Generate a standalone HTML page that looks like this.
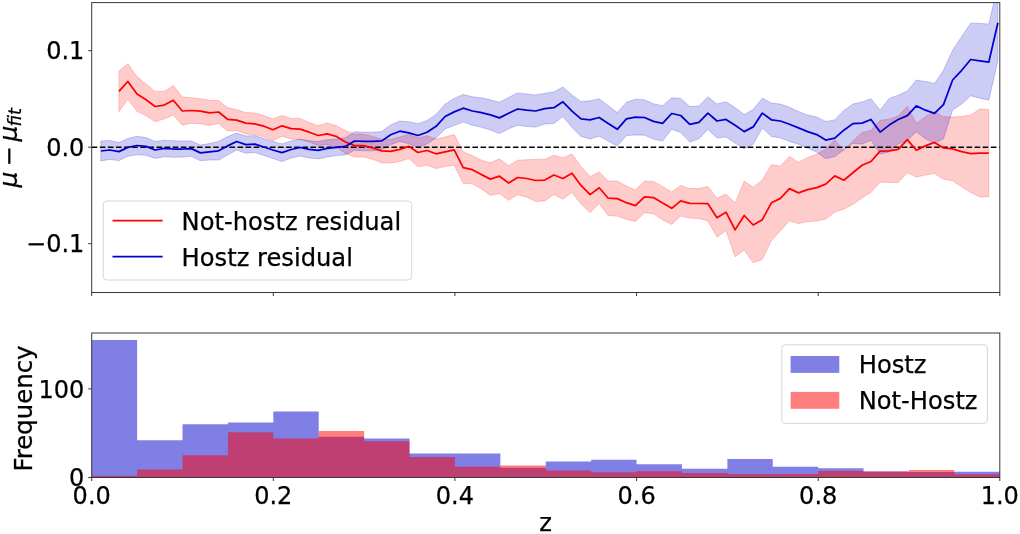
<!DOCTYPE html>
<html><head><meta charset="utf-8"><title>Residuals</title>
<style>
html,body{margin:0;padding:0;background:#fff;}
svg{display:block;}
text{stroke:#000;stroke-width:0.25px;font-family:"DejaVu Sans","Liberation Sans",sans-serif;fill:#000;}
.t{font-size:24.0px;}
.l{font-size:24.2px;}
</style></head><body>
<svg width="1020" height="534" viewBox="0 0 1020 534">
<rect width="1020" height="534" fill="#fff"/>
<defs><clipPath id="c1"><rect x="91.7" y="2.6" width="908.0999999999999" height="289.9"/></clipPath></defs>

<g clip-path="url(#c1)">
<polygon points="118.9,71.1 127.9,63.8 137.0,76.6 146.1,83.9 155.1,91.4 164.2,91.4 173.3,85.5 182.3,96.9 191.4,97.7 200.4,98.7 209.5,100.2 218.6,100.6 227.6,107.7 236.7,109.7 245.8,112.6 254.8,113.0 263.9,115.6 272.9,118.9 282.0,115.4 291.1,118.4 300.1,118.4 309.2,122.4 318.2,125.7 327.3,123.0 336.4,125.7 345.4,130.6 354.5,134.2 363.6,134.2 372.6,136.5 381.7,139.1 390.7,139.5 399.8,137.1 408.9,134.2 417.9,138.1 427.0,135.7 436.1,139.1 445.1,137.1 454.2,134.6 463.2,151.9 472.3,155.5 481.4,160.2 490.4,162.8 499.5,158.8 508.6,165.7 517.6,160.2 526.7,159.8 535.7,159.4 544.8,159.2 553.9,155.3 562.9,157.9 572.0,153.9 581.0,166.7 590.1,176.5 599.2,172.0 608.2,180.9 617.3,181.1 626.4,186.0 635.4,189.9 644.5,180.9 653.5,181.5 662.6,186.4 671.7,192.1 680.7,185.5 689.8,188.6 698.9,188.6 707.9,186.4 717.0,198.2 726.0,193.9 735.1,203.0 744.2,181.1 753.2,187.2 762.3,179.9 771.4,164.8 780.4,166.0 789.5,156.5 798.5,162.2 807.6,157.5 816.7,154.2 825.7,149.1 834.8,139.8 843.8,151.2 852.9,140.9 862.0,132.5 871.0,130.6 880.1,120.3 889.2,119.2 898.2,116.0 907.3,106.4 916.3,123.5 925.4,116.7 934.5,111.5 943.5,116.7 952.6,117.1 961.7,116.4 970.7,114.9 979.8,109.1 988.8,109.4 988.8,196.7 979.8,197.0 970.7,192.4 961.7,186.8 952.6,180.8 943.5,179.3 934.5,173.3 925.4,175.1 916.3,177.0 907.3,172.7 898.2,182.6 889.2,182.4 880.1,182.1 871.0,192.4 862.0,198.0 852.9,204.5 843.8,209.2 834.8,212.0 825.7,219.1 816.7,221.0 807.6,221.6 798.5,223.6 789.5,220.7 780.4,230.9 771.4,240.7 762.3,259.4 753.2,262.7 744.2,250.0 735.1,256.8 726.0,230.5 717.0,237.2 707.9,221.0 698.9,218.5 689.8,218.1 680.7,216.1 671.7,224.4 662.6,219.8 653.5,213.7 644.5,212.7 635.4,221.4 626.4,219.4 617.3,216.1 608.2,215.5 599.2,203.5 590.1,212.7 581.0,204.1 572.0,192.5 562.9,199.2 553.9,194.6 544.8,200.9 535.7,201.5 526.7,197.2 517.6,194.8 508.6,200.3 499.5,193.5 490.4,195.4 481.4,188.9 472.3,183.8 463.2,183.3 454.2,165.2 445.1,166.6 436.1,168.6 427.0,165.2 417.9,166.8 408.9,158.5 399.8,161.5 390.7,163.1 381.7,162.7 372.6,159.3 363.6,157.0 354.5,157.0 345.4,153.4 336.4,147.3 327.3,144.6 318.2,145.4 309.2,142.0 300.1,139.7 291.1,138.9 282.0,136.2 272.9,140.5 263.9,136.8 254.8,134.6 245.8,133.9 236.7,130.5 227.6,130.9 218.6,123.4 209.5,125.4 200.4,123.8 191.4,123.2 182.3,125.2 173.3,115.0 164.2,118.9 155.1,121.7 146.1,115.8 137.0,111.2 127.9,99.2 118.9,111.6" fill="#ff0000" fill-opacity="0.2" stroke="#ff0000" stroke-opacity="0.2" stroke-width="1"/>
<polygon points="100.8,140.9 109.8,140.5 118.9,142.5 127.9,138.6 137.0,136.2 146.1,137.6 155.1,141.5 164.2,140.2 173.3,140.7 182.3,140.9 191.4,140.9 200.4,145.1 209.5,143.5 218.6,141.5 227.6,136.6 236.7,133.1 245.8,136.0 254.8,135.6 263.9,138.6 272.9,141.5 282.0,143.9 291.1,141.0 300.1,139.1 309.2,140.7 318.2,141.6 327.3,139.7 336.4,139.1 345.4,137.7 354.5,131.8 363.6,132.2 372.6,132.2 381.7,131.6 390.7,124.9 399.8,121.0 408.9,121.8 417.9,123.7 427.0,120.4 436.1,114.5 445.1,104.1 454.2,98.4 463.2,94.4 472.3,96.8 481.4,97.8 490.4,99.8 499.5,102.2 508.6,97.4 517.6,92.9 526.7,93.9 535.7,94.9 544.8,93.3 553.9,91.9 562.9,87.0 572.0,94.9 581.0,101.4 590.1,100.8 599.2,98.8 608.2,105.7 617.3,112.6 626.4,102.2 635.4,99.2 644.5,99.8 653.5,103.7 662.6,105.7 671.7,97.8 680.7,98.4 689.8,106.6 698.9,106.0 707.9,96.8 717.0,104.1 726.0,101.7 735.1,107.6 744.2,114.5 753.2,109.6 762.3,98.2 771.4,103.1 780.4,104.1 789.5,107.2 798.5,111.5 807.6,115.1 816.7,116.9 825.7,121.4 834.8,119.9 843.8,110.5 852.9,104.0 862.0,102.1 871.0,98.7 880.1,110.2 889.2,98.4 898.2,95.2 907.3,90.9 916.3,80.0 925.4,81.5 934.5,83.4 943.5,70.3 952.6,50.2 961.7,36.5 970.7,23.2 979.8,23.4 988.8,24.0 997.9,-15.0 997.9,60.6 988.8,100.2 979.8,98.2 970.7,95.8 961.7,104.1 952.6,109.9 943.5,138.8 934.5,143.3 925.4,138.8 916.3,131.7 907.3,140.3 898.2,143.9 889.2,151.9 880.1,154.0 871.0,140.3 862.0,144.1 852.9,143.3 843.8,149.9 834.8,156.6 825.7,158.7 816.7,152.3 807.6,148.1 798.5,144.2 789.5,141.4 780.4,137.9 771.4,136.5 762.3,128.1 753.2,144.2 744.2,148.7 735.1,143.0 726.0,137.1 717.0,137.9 707.9,129.4 698.9,138.7 689.8,142.0 680.7,132.6 671.7,129.2 662.6,141.1 653.5,139.1 644.5,135.2 635.4,135.0 626.4,135.6 617.3,146.0 608.2,141.1 599.2,136.2 590.1,138.9 581.0,136.4 572.0,127.5 562.9,116.5 553.9,123.4 544.8,124.0 535.7,127.1 526.7,126.5 517.6,125.2 508.6,128.9 499.5,133.6 490.4,130.1 481.4,127.3 472.3,125.2 463.2,122.0 454.2,125.5 445.1,128.9 436.1,138.1 427.0,144.0 417.9,147.3 408.9,143.8 399.8,141.4 390.7,144.6 381.7,150.1 372.6,150.7 363.6,150.7 354.5,150.3 345.4,155.0 336.4,155.6 327.3,157.0 318.2,158.9 309.2,158.0 300.1,156.0 291.1,158.0 282.0,161.6 272.9,158.4 263.9,155.5 254.8,152.5 245.8,153.3 236.7,150.0 227.6,155.1 218.6,160.0 209.5,160.0 200.4,160.8 191.4,156.3 182.3,157.1 173.3,157.3 164.2,156.7 155.1,158.4 146.1,155.3 137.0,154.7 127.9,156.3 118.9,160.6 109.8,159.4 100.8,161.0" fill="#0000cd" fill-opacity="0.2" stroke="#0000cd" stroke-opacity="0.2" stroke-width="1"/>
<line x1="91.7" x2="999.8" y1="147.2" y2="147.2" stroke="#000" stroke-width="1.5" stroke-dasharray="5.6 2.5"/>
<polyline points="118.9,91.4 127.9,81.5 137.0,93.9 146.1,99.8 155.1,106.5 164.2,105.1 173.3,100.2 182.3,111.0 191.4,110.5 200.4,111.2 209.5,112.8 218.6,112.0 227.6,119.3 236.7,120.1 245.8,123.2 254.8,123.8 263.9,126.2 272.9,129.7 282.0,125.8 291.1,128.7 300.1,129.1 309.2,132.2 318.2,135.5 327.3,133.8 336.4,136.5 345.4,142.0 354.5,145.6 363.6,145.6 372.6,147.9 381.7,150.9 390.7,151.3 399.8,149.3 408.9,146.4 417.9,152.5 427.0,150.5 436.1,153.8 445.1,151.9 454.2,149.9 463.2,167.6 472.3,169.7 481.4,174.6 490.4,179.1 499.5,176.2 508.6,183.0 517.6,177.5 526.7,178.5 535.7,180.5 544.8,180.1 553.9,175.0 562.9,178.5 572.0,173.2 581.0,185.4 590.1,194.6 599.2,187.8 608.2,198.2 617.3,198.6 626.4,202.7 635.4,205.7 644.5,196.8 653.5,197.6 662.6,203.1 671.7,208.3 680.7,200.8 689.8,203.3 698.9,203.5 707.9,203.7 717.0,217.7 726.0,212.2 735.1,229.9 744.2,215.5 753.2,225.0 762.3,219.7 771.4,202.8 780.4,198.4 789.5,188.6 798.5,192.9 807.6,189.6 816.7,187.6 825.7,184.1 834.8,175.9 843.8,180.2 852.9,172.7 862.0,165.2 871.0,161.5 880.1,151.2 889.2,150.8 898.2,149.3 907.3,139.6 916.3,150.2 925.4,145.9 934.5,142.4 943.5,148.0 952.6,148.9 961.7,151.6 970.7,153.6 979.8,153.1 988.8,153.1" fill="none" stroke="#ff0000" stroke-width="1.75" stroke-linejoin="round"/>
<polyline points="100.8,151.0 109.8,150.0 118.9,151.6 127.9,147.4 137.0,145.5 146.1,146.4 155.1,150.0 164.2,148.4 173.3,149.0 182.3,149.0 191.4,148.6 200.4,152.9 209.5,151.8 218.6,150.8 227.6,145.9 236.7,141.5 245.8,144.7 254.8,144.1 263.9,147.0 272.9,150.0 282.0,152.7 291.1,149.5 300.1,147.5 309.2,149.3 318.2,150.3 327.3,148.3 336.4,147.3 345.4,146.4 354.5,141.0 363.6,141.4 372.6,141.4 381.7,140.9 390.7,134.8 399.8,131.2 408.9,132.8 417.9,135.5 427.0,132.2 436.1,126.3 445.1,116.5 454.2,111.9 463.2,108.2 472.3,111.0 481.4,112.6 490.4,114.9 499.5,117.9 508.6,113.2 517.6,109.0 526.7,110.2 535.7,111.0 544.8,108.6 553.9,107.7 562.9,101.8 572.0,111.2 581.0,118.9 590.1,119.9 599.2,117.5 608.2,123.4 617.3,129.3 626.4,118.9 635.4,117.1 644.5,117.5 653.5,121.4 662.6,123.4 671.7,113.5 680.7,115.5 689.8,124.3 698.9,122.4 707.9,113.1 717.0,121.0 726.0,119.4 735.1,125.3 744.2,131.6 753.2,126.9 762.3,113.1 771.4,119.8 780.4,121.0 789.5,124.3 798.5,127.9 807.6,131.6 816.7,134.6 825.7,140.1 834.8,138.2 843.8,130.2 852.9,123.6 862.0,123.1 871.0,119.5 880.1,132.1 889.2,125.1 898.2,119.5 907.3,115.6 916.3,105.9 925.4,110.2 934.5,113.4 943.5,104.6 952.6,80.0 961.7,70.3 970.7,59.5 979.8,60.8 988.8,62.1 997.9,22.8" fill="none" stroke="#0000cd" stroke-width="1.75" stroke-linejoin="round"/>
</g>
<rect x="91.7" y="2.6" width="908.0999999999999" height="289.9" fill="none" stroke="#383838" stroke-width="1"/>
<line x1="91.7" x2="91.7" y1="292.5" y2="296.0" stroke="#383838" stroke-width="1"/>
<line x1="273.3" x2="273.3" y1="292.5" y2="296.0" stroke="#383838" stroke-width="1"/>
<line x1="454.9" x2="454.9" y1="292.5" y2="296.0" stroke="#383838" stroke-width="1"/>
<line x1="636.6" x2="636.6" y1="292.5" y2="296.0" stroke="#383838" stroke-width="1"/>
<line x1="818.2" x2="818.2" y1="292.5" y2="296.0" stroke="#383838" stroke-width="1"/>
<line x1="999.8" x2="999.8" y1="292.5" y2="296.0" stroke="#383838" stroke-width="1"/>
<line x1="88.2" x2="91.7" y1="50.7" y2="50.7" stroke="#383838" stroke-width="1"/>
<text class="t" x="84.3" y="59.4" text-anchor="end">0.1</text>
<line x1="88.2" x2="91.7" y1="147.2" y2="147.2" stroke="#383838" stroke-width="1"/>
<text class="t" x="84.3" y="155.9" text-anchor="end">0.0</text>
<line x1="88.2" x2="91.7" y1="243.7" y2="243.7" stroke="#383838" stroke-width="1"/>
<text class="t" x="84.3" y="252.4" text-anchor="end">−0.1</text>
<text transform="translate(16.5,187.5) rotate(-90)" text-anchor="start" font-size="25" font-style="italic">μ<tspan dx="5.1" font-size="24" font-style="normal" dy="0">−</tspan><tspan dx="5.0" dy="0">μ</tspan><tspan font-size="17.6" dy="4.3" dx="-1.0">fit</tspan></text>
<rect x="103.3" y="201" width="308.4" height="79" rx="3.5" fill="#fff" fill-opacity="0.8" stroke="#ccc" stroke-opacity="0.8" stroke-width="1"/>
<line x1="112.5" x2="162.6" y1="220.7" y2="220.7" stroke="#ff0000" stroke-width="1.75"/>
<line x1="112.5" x2="162.6" y1="256.7" y2="256.7" stroke="#0000cd" stroke-width="1.75"/>
<text class="l" x="181.6" y="229.9">Not-hostz residual</text>
<text class="l" x="181.6" y="265.9">Hostz residual</text>
<polygon points="91.70,477.50 91.70,339.90 137.10,339.90 137.10,440.29 182.51,440.29 182.51,424.34 227.91,424.34 227.91,422.57 273.32,422.57 273.32,411.49 318.72,411.49 318.72,436.74 364.13,436.74 364.13,438.52 409.53,438.52 409.53,453.58 454.94,453.58 454.94,453.58 500.34,453.58 500.34,467.75 545.75,467.75 545.75,461.55 591.15,461.55 591.15,459.78 636.56,459.78 636.56,464.21 681.96,464.21 681.96,468.64 727.37,468.64 727.37,458.89 772.77,458.89 772.77,466.87 818.18,466.87 818.18,468.29 863.58,468.29 863.58,471.56 908.99,471.56 908.99,472.10 954.39,472.10 954.39,471.65 999.80,471.65 999.80,477.50" fill="#0000cd" fill-opacity="0.5"/>
<polygon points="91.70,477.50 91.70,475.73 137.10,475.73 137.10,469.53 182.51,469.53 182.51,455.35 227.91,455.35 227.91,432.31 273.32,432.31 273.32,438.52 318.72,438.52 318.72,430.99 364.13,430.99 364.13,441.17 409.53,441.17 409.53,457.12 454.94,457.12 454.94,466.87 500.34,466.87 500.34,465.54 545.75,465.54 545.75,470.41 591.15,470.41 591.15,472.18 636.56,472.18 636.56,471.30 681.96,471.30 681.96,473.07 727.37,473.07 727.37,473.96 772.77,473.96 772.77,473.96 818.18,473.96 818.18,471.03 863.58,471.03 863.58,471.56 908.99,471.56 908.99,470.06 954.39,470.06 954.39,474.22 999.80,474.22 999.80,477.50" fill="#ff0000" fill-opacity="0.5"/>
<rect x="91.7" y="333.0" width="908.0999999999999" height="144.5" fill="none" stroke="#383838" stroke-width="1"/>
<line x1="91.7" x2="91.7" y1="477.5" y2="481.0" stroke="#383838" stroke-width="1"/>
<text class="t" x="91.7" y="503.7" text-anchor="middle">0.0</text>
<line x1="273.3" x2="273.3" y1="477.5" y2="481.0" stroke="#383838" stroke-width="1"/>
<text class="t" x="273.3" y="503.7" text-anchor="middle">0.2</text>
<line x1="454.9" x2="454.9" y1="477.5" y2="481.0" stroke="#383838" stroke-width="1"/>
<text class="t" x="454.9" y="503.7" text-anchor="middle">0.4</text>
<line x1="636.6" x2="636.6" y1="477.5" y2="481.0" stroke="#383838" stroke-width="1"/>
<text class="t" x="636.6" y="503.7" text-anchor="middle">0.6</text>
<line x1="818.2" x2="818.2" y1="477.5" y2="481.0" stroke="#383838" stroke-width="1"/>
<text class="t" x="818.2" y="503.7" text-anchor="middle">0.8</text>
<line x1="999.8" x2="999.8" y1="477.5" y2="481.0" stroke="#383838" stroke-width="1"/>
<text class="t" x="999.8" y="503.7" text-anchor="middle">1.0</text>
<line x1="88.2" x2="91.7" y1="388.9" y2="388.9" stroke="#383838" stroke-width="1"/>
<text class="t" x="84.3" y="397.6" text-anchor="end">100</text>
<line x1="88.2" x2="91.7" y1="477.5" y2="477.5" stroke="#383838" stroke-width="1"/>
<text class="t" x="84.3" y="486.2" text-anchor="end">0</text>
<text transform="translate(31.8,408.5) rotate(-90)" text-anchor="middle" font-size="24.4">Frequency</text>
<text class="l" x="545.5" y="531" text-anchor="middle">z</text>
<rect x="781.8" y="344.8" width="205.6" height="78.6" rx="3.5" fill="#fff" fill-opacity="0.8" stroke="#ccc" stroke-opacity="0.8" stroke-width="1"/>
<rect x="790.6" y="356" width="48.7" height="16.9" fill="#0000cd" fill-opacity="0.5"/>
<rect x="790.6" y="391.9" width="48.7" height="16.9" fill="#ff0000" fill-opacity="0.5"/>
<text class="l" x="858.7" y="373">Hostz</text>
<text class="l" x="858.7" y="408.8">Not-Hostz</text>
</svg></body></html>
